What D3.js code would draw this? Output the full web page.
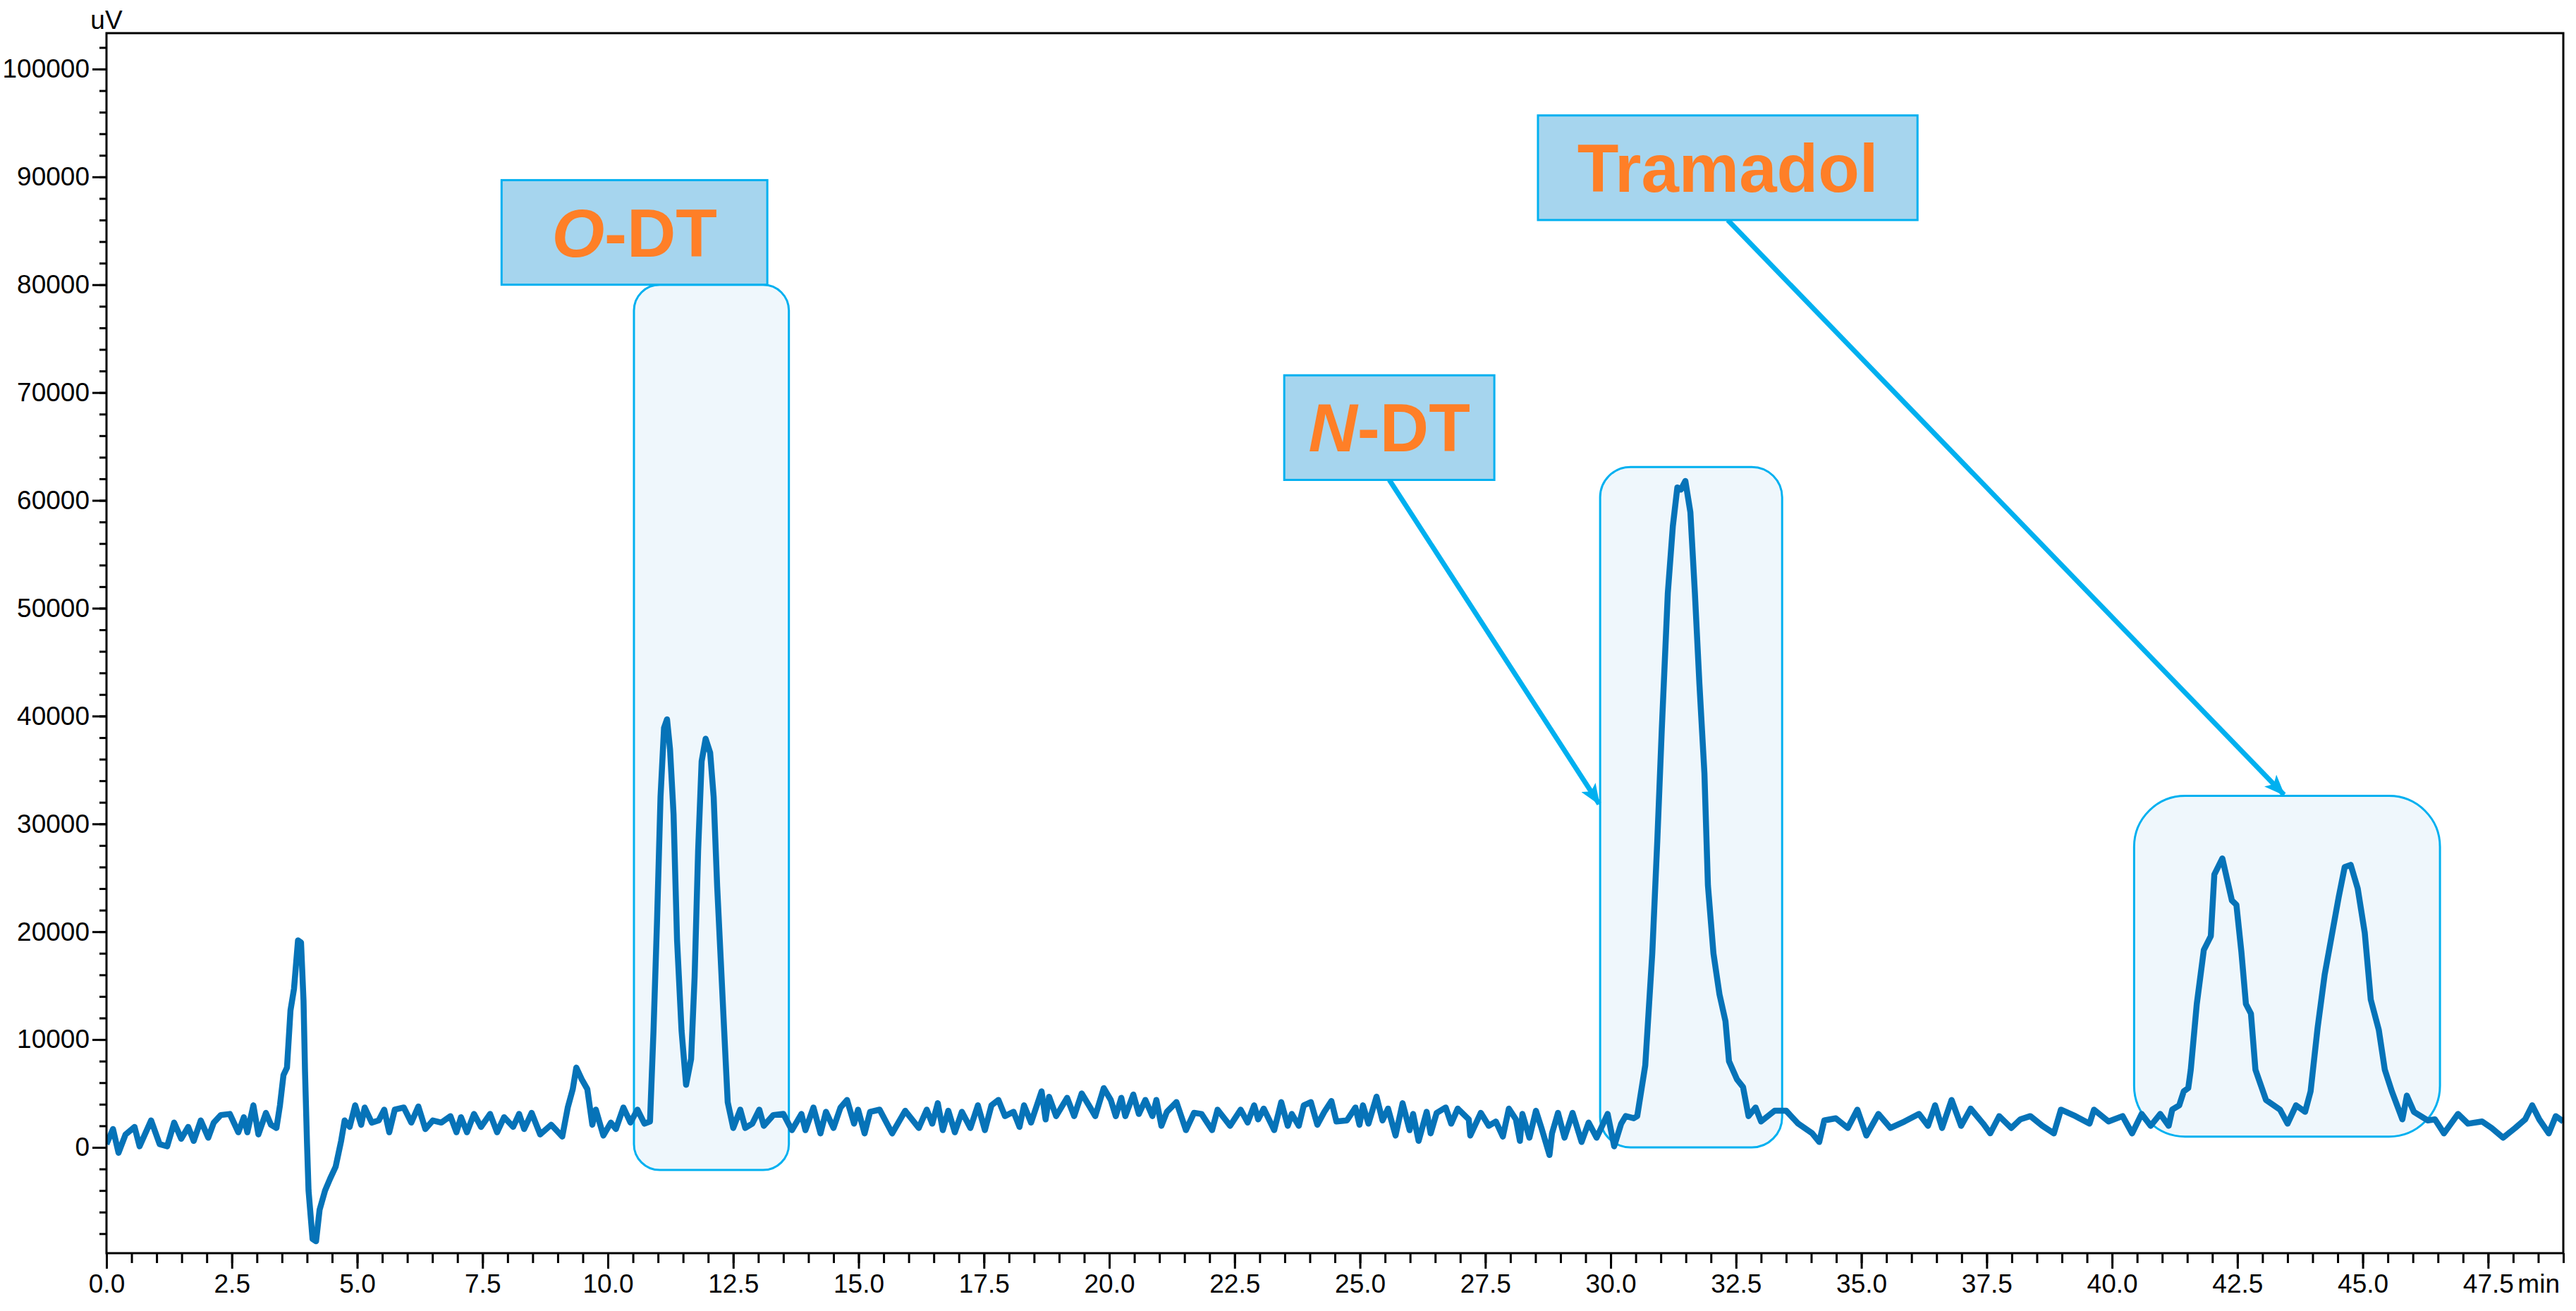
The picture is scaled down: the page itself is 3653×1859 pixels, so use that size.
<!DOCTYPE html>
<html>
<head>
<meta charset="utf-8">
<script src="https://cdn.jsdelivr.net/npm/d3@7"></script>
<style>
  html, body { margin: 0; padding: 0; background: #fff; }
  svg { display: block; }
</style>
</head>
<body>
<div id="container"></div>
<script>
/* CONSTANTS AND GLOBALS */
const width = 3653,
  height = 1859,
  margin = {top: 47, right: 18, bottom: 82, left: 151};

const FONT = '"Liberation Sans", Arial, sans-serif';
const TRACE = "#0673b8";
const CYAN = "#00b0f0";
const ORANGE = "#ff7f27";

/* DATA */
// retention time, min
const times = [
  0.00, 0.13, 0.24, 0.38, 0.56, 0.66, 0.89, 1.06, 1.21, 1.35, 1.49, 1.63, 1.74, 1.88, 2.03, 2.14,
  2.28, 2.46, 2.63, 2.74, 2.81, 2.93, 3.03, 3.18, 3.28, 3.39, 3.46, 3.53, 3.60, 3.67, 3.74, 3.82,
  3.88, 3.93, 3.96, 4.00, 4.03, 4.11, 4.18, 4.25, 4.36, 4.46, 4.57, 4.68, 4.75, 4.85, 4.96, 5.08,
  5.15, 5.29, 5.43, 5.54, 5.64, 5.75, 5.93, 6.08, 6.22, 6.36, 6.51, 6.68, 6.86, 6.98, 7.07, 7.19,
  7.33, 7.47, 7.65, 7.79, 7.93, 8.11, 8.23, 8.33, 8.48, 8.65, 8.87, 9.09, 9.20, 9.30, 9.37, 9.48,
  9.59, 9.69, 9.76, 9.91, 10.06, 10.16, 10.31, 10.45, 10.59, 10.73, 10.84, 10.91, 10.98, 11.05, 11.12, 11.18,
  11.24, 11.31, 11.38, 11.47, 11.56, 11.66, 11.73, 11.80, 11.87, 11.95, 12.04, 12.11, 12.18, 12.25, 12.32, 12.39,
  12.50, 12.64, 12.74, 12.88, 13.02, 13.11, 13.30, 13.50, 13.67, 13.86, 13.94, 14.10, 14.24, 14.35, 14.50, 14.64,
  14.77, 14.91, 14.99, 15.12, 15.23, 15.42, 15.67, 15.93, 16.20, 16.36, 16.47, 16.58, 16.68, 16.79, 16.92, 17.06,
  17.23, 17.38, 17.52, 17.65, 17.79, 17.92, 18.09, 18.21, 18.30, 18.44, 18.65, 18.73, 18.80, 18.94, 19.16, 19.30,
  19.45, 19.62, 19.72, 19.89, 20.03, 20.13, 20.24, 20.32, 20.48, 20.59, 20.72, 20.86, 20.94, 21.04, 21.15, 21.34,
  21.53, 21.69, 21.84, 22.05, 22.16, 22.41, 22.62, 22.76, 22.89, 22.97, 23.08, 23.29, 23.43, 23.56, 23.64, 23.78,
  23.88, 24.02, 24.15, 24.29, 24.43, 24.53, 24.74, 24.91, 24.99, 25.06, 25.17, 25.33, 25.45, 25.56, 25.71, 25.85,
  25.99, 26.06, 26.17, 26.33, 26.41, 26.53, 26.71, 26.82, 26.95, 27.17, 27.20, 27.41, 27.57, 27.71, 27.85, 27.97,
  28.11, 28.19, 28.24, 28.38, 28.51, 28.62, 28.78, 28.83, 28.95, 29.08, 29.24, 29.42, 29.56, 29.72, 29.94, 30.07,
  30.21, 30.30, 30.46, 30.53, 30.69, 30.83, 30.93, 31.02, 31.14, 31.24, 31.33, 31.40, 31.49, 31.59, 31.68, 31.77,
  31.87, 31.94, 32.05, 32.17, 32.29, 32.36, 32.52, 32.64, 32.75, 32.89, 33.00, 33.27, 33.50, 33.74, 34.02, 34.16,
  34.26, 34.49, 34.73, 34.92, 35.10, 35.34, 35.58, 35.86, 36.15, 36.33, 36.47, 36.61, 36.80, 36.99, 37.18, 37.43,
  37.57, 37.75, 37.99, 38.17, 38.37, 38.61, 38.84, 38.98, 39.27, 39.55, 39.64, 39.93, 40.21, 40.40, 40.59, 40.77,
  40.96, 41.13, 41.20, 41.34, 41.43, 41.52, 41.57, 41.69, 41.83, 41.97, 42.04, 42.20, 42.39, 42.48, 42.58, 42.67,
  42.77, 42.86, 43.07, 43.35, 43.50, 43.67, 43.85, 43.96, 44.10, 44.24, 44.38, 44.52, 44.64, 44.76, 44.90, 45.04,
  45.16, 45.32, 45.44, 45.58, 45.79, 45.88, 46.02, 46.30, 46.44, 46.62, 46.90, 47.10, 47.38, 47.57, 47.80, 48.04,
  48.24, 48.38, 48.52, 48.71, 48.85, 49.00
];

// detector signal, uV
const signal = [
  300, 1700, -500, 1200, 1900, 100, 2500, 300, 100, 2300, 800, 1900, 600, 2500, 900, 2300,
  3000, 3100, 1400, 2800, 1400, 3900, 1200, 3200, 2100, 1800, 3900, 6700, 7400, 12700, 14700, 19200,
  19000, 13600, 7000, 300, -4000, -8500, -8700, -5800, -4000, -2900, -1800, 600, 2500, 1900, 3900, 2100,
  3700, 2300, 2500, 3500, 1400, 3500, 3700, 2300, 3800, 1700, 2500, 2300, 2900, 1400, 2800, 1400,
  3100, 1900, 3100, 1400, 2800, 1900, 3100, 1700, 3200, 1200, 2100, 1000, 3700, 5400, 7400, 6300,
  5400, 2100, 3500, 1100, 2300, 1700, 3700, 2300, 3500, 2200, 2400, 10800, 20900, 32500, 38900, 39700,
  36900, 30900, 19200, 10800, 5800, 8200, 15800, 27500, 35800, 37900, 36600, 32500, 24200, 17500, 10800, 4200,
  1800, 3500, 1800, 2200, 3500, 2000, 3000, 3100, 1600, 3100, 1600, 3700, 1300, 3300, 1800, 3700,
  4400, 2200, 3500, 1300, 3300, 3500, 1300, 3400, 1800, 3500, 2200, 4100, 1600, 3400, 1400, 3300,
  1800, 3900, 1600, 3900, 4400, 2900, 3300, 1900, 3900, 2300, 5200, 2600, 4700, 2900, 4600, 2900,
  5000, 3700, 2900, 5500, 4400, 2900, 4600, 2900, 4900, 3100, 4400, 2900, 4400, 2000, 3300, 4200,
  1600, 3200, 3100, 1600, 3500, 2000, 3500, 2300, 3900, 2600, 3600, 1600, 4200, 2000, 3100, 2000,
  3900, 4200, 2100, 3300, 4300, 2400, 2500, 3700, 2100, 3900, 2200, 4700, 2500, 3600, 1100, 4100,
  1600, 3100, 600, 3300, 1300, 3200, 3700, 2200, 3600, 2600, 1100, 3200, 2000, 2400, 1000, 3600,
  2600, 600, 3100, 900, 3400, 1800, -700, 1300, 3200, 900, 3200, 500, 2300, 900, 3100, 100,
  2200, 2900, 2700, 2900, 7600, 18000, 28400, 38800, 51400, 57600, 61200, 61000, 61800, 58900, 51400, 43000,
  34700, 24300, 18000, 14200, 11700, 8000, 6300, 5600, 2900, 3700, 2400, 3400, 3400, 2200, 1300, 500,
  2500, 2700, 1800, 3500, 1100, 3100, 1800, 2400, 3100, 2000, 3900, 1800, 4400, 2000, 3600, 2200,
  1300, 2900, 1800, 2600, 2900, 2000, 1300, 3500, 2900, 2200, 3500, 2400, 2900, 1300, 3100, 2000,
  3100, 2000, 3500, 3900, 5200, 5500, 7200, 13300, 18300, 19600, 25300, 26800, 22900, 22500, 18100, 13300,
  12400, 7200, 4400, 3500, 2200, 3900, 3300, 5200, 11100, 16000, 19600, 23200, 26000, 26200, 24000, 19900,
  13700, 10900, 7200, 5200, 2600, 4800, 3300, 2500, 2600, 1300, 3100, 2200, 2400, 1800, 900, 1800,
  2600, 3900, 2600, 1300, 2900, 2400
];

// axis ranges and ticks
const xDomain = [0, 49];
const yDomain = [-9810, 103330];
const xMajorTicks = d3.range(0, 48, 2.5);
const xMinorTicks = d3.range(0, 49.01, 0.5);
const yMajorTicks = d3.range(0, 100001, 10000);
const yMinorTicks = d3.range(-8000, 102001, 2000);

// highlighted peak windows (time range, signal range)
const windowNames = ["O-DT", "N-DT", "Tramadol"];
const windowT0 = [10.52, 29.79, 40.44];
const windowT1 = [13.61, 33.42, 46.54];
const windowV0 = [-2100, 0, 1000];
const windowV1 = [80000, 63100, 32600];

// callout labels: italic prefix + plain rest, placed in data units
const labelItalic = ["O", "N", ""];
const labelRest = ["-DT", "-DT", "Tramadol"];
const labelT0 = [7.88, 23.49, 28.55];
const labelT1 = [13.18, 27.68, 36.12];
const labelV0 = [80000, 61900, 86000];
const labelV1 = [89700, 71600, 95700];
// arrows point from the label bottom to the peak window (null = no arrow)
const arrowTipT = [null, 29.77, 43.43];
const arrowTipV = [null, 31850, 32700];

const trace = times.map((t, i) => ({t: t, v: signal[i]}));

/* SCALES */
const xScale = d3.scaleLinear()
  .domain(xDomain)
  .range([margin.left, width - margin.right]);

const yScale = d3.scaleLinear()
  .domain(yDomain)
  .range([height - margin.bottom, margin.top]);

/* SVG */
const svg = d3.select("#container")
  .append("svg")
  .attr("width", width)
  .attr("height", height);

const defs = svg.append("defs");
defs.append("clipPath")
  .attr("id", "plot-clip")
  .append("rect")
  .attr("x", margin.left)
  .attr("y", margin.top)
  .attr("width", width - margin.left - margin.right)
  .attr("height", height - margin.top - margin.bottom);

defs.append("marker")
  .attr("id", "arrowhead")
  .attr("markerUnits", "userSpaceOnUse")
  .attr("viewBox", "0 0 30 24")
  .attr("refX", 28)
  .attr("refY", 12)
  .attr("markerWidth", 30)
  .attr("markerHeight", 24)
  .attr("orient", "auto")
  .append("path")
  .attr("d", "M0,0 L30,12 L0,24 L7,12 Z")
  .attr("fill", CYAN);

// PEAK WINDOWS
windowNames.forEach((name, i) => {
  const x0 = xScale(windowT0[i]), x1 = xScale(windowT1[i]);
  const y0 = yScale(windowV1[i]), y1 = yScale(windowV0[i]);
  const r = Math.min(x1 - x0, y1 - y0) * 0.1667;
  svg.append("rect")
    .attr("class", "window")
    .attr("x", x0)
    .attr("y", y0)
    .attr("width", x1 - x0)
    .attr("height", y1 - y0)
    .attr("rx", r)
    .attr("ry", r)
    .attr("fill", "#eff7fc")
    .attr("stroke", CYAN)
    .attr("stroke-width", 3);
});

// TRACE
const lineGen = d3.line()
  .x(d => xScale(d.t))
  .y(d => yScale(d.v));

svg.append("path")
  .datum(trace)
  .attr("class", "line")
  .attr("clip-path", "url(#plot-clip)")
  .attr("fill", "none")
  .attr("stroke", TRACE)
  .attr("stroke-width", 8.5)
  .attr("stroke-linejoin", "round")
  .attr("d", lineGen);

// AXES
const xAxisGroup = svg.append("g")
  .attr("transform", `translate(0,${height - margin.bottom})`);

xAxisGroup.append("g")
  .call(d3.axisBottom(xScale).tickValues(xMinorTicks).tickSize(14).tickFormat(""))
  .call(g => g.select(".domain").remove());

xAxisGroup.append("g")
  .call(d3.axisBottom(xScale)
    .tickValues(xMajorTicks)
    .tickSize(22)
    .tickPadding(8)
    .tickFormat(d3.format(".1f")))
  .call(g => g.select(".domain").remove());

const yAxisGroup = svg.append("g")
  .attr("transform", `translate(${margin.left},0)`);

yAxisGroup.append("g")
  .call(d3.axisLeft(yScale).tickValues(yMinorTicks).tickSize(10).tickFormat(""))
  .call(g => g.select(".domain").remove());

yAxisGroup.append("g")
  .call(d3.axisLeft(yScale)
    .tickValues(yMajorTicks)
    .tickSize(20)
    .tickPadding(4)
    .tickFormat(d3.format("d")))
  .call(g => g.select(".domain").remove());

svg.selectAll(".tick line")
  .attr("stroke", "#000")
  .attr("stroke-width", 3);

svg.selectAll(".tick text")
  .attr("font-family", FONT)
  .attr("font-size", 37)
  .attr("fill", "#000");

// plot frame
svg.append("rect")
  .attr("x", margin.left)
  .attr("y", margin.top)
  .attr("width", width - margin.left - margin.right)
  .attr("height", height - margin.top - margin.bottom)
  .attr("fill", "none")
  .attr("stroke", "#000")
  .attr("stroke-width", 3);

// unit labels
svg.append("text")
  .attr("x", margin.left)
  .attr("y", margin.top - 6)
  .attr("text-anchor", "middle")
  .attr("font-family", FONT)
  .attr("font-size", 37)
  .text("uV");

svg.append("text")
  .attr("x", xScale(47.5) + 42)
  .attr("y", height - margin.bottom + 56)
  .attr("font-family", FONT)
  .attr("font-size", 37)
  .text("min");

// CALLOUTS
windowNames.forEach((name, i) => {
  const x0 = xScale(labelT0[i]), x1 = xScale(labelT1[i]);
  const y0 = yScale(labelV1[i]), y1 = yScale(labelV0[i]);

  if (arrowTipT[i] !== null) {
    svg.append("line")
      .attr("x1", (x0 + x1) / 2)
      .attr("y1", y1)
      .attr("x2", xScale(arrowTipT[i]))
      .attr("y2", yScale(arrowTipV[i]))
      .attr("stroke", CYAN)
      .attr("stroke-width", 7)
      .attr("marker-end", "url(#arrowhead)");
  }

  svg.append("rect")
    .attr("x", x0)
    .attr("y", y0)
    .attr("width", x1 - x0)
    .attr("height", y1 - y0)
    .attr("fill", "#a6d5ee")
    .attr("stroke", CYAN)
    .attr("stroke-width", 3);

  const label = svg.append("text")
    .attr("x", (x0 + x1) / 2)
    .attr("y", (y0 + y1) / 2 + 34)
    .attr("text-anchor", "middle")
    .attr("font-family", FONT)
    .attr("font-size", 96)
    .attr("font-weight", "bold")
    .attr("fill", ORANGE);

  if (labelItalic[i]) {
    label.append("tspan").attr("font-style", "italic").text(labelItalic[i]);
  }
  label.append("tspan").text(labelRest[i]);
});
</script>
</body>
</html>
